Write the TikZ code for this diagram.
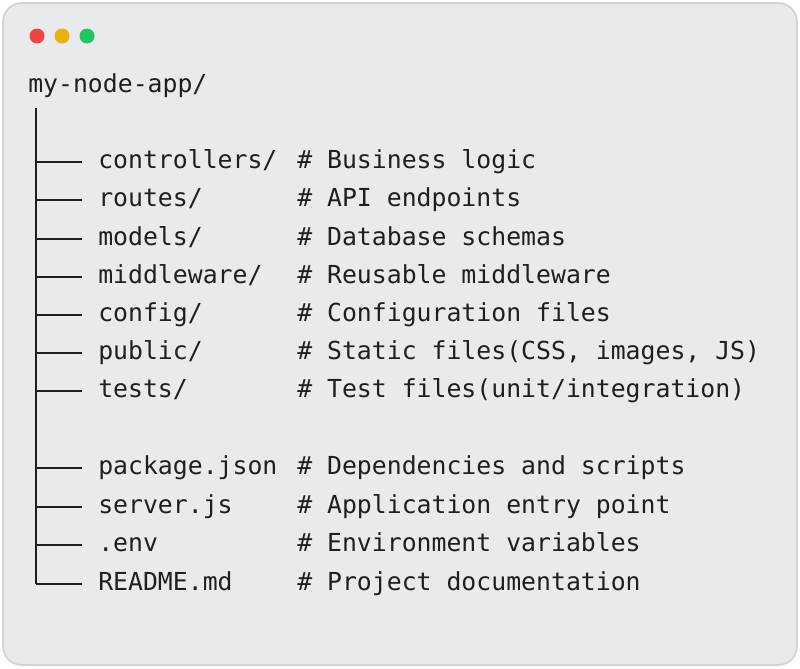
\documentclass[tikz,border=0pt]{standalone}
\usepackage{fontspec}
\setmonofont{DejaVu Sans Mono}
\definecolor{txt}{HTML}{1F1F1F}
\definecolor{cardbg}{HTML}{E8EAED}
\definecolor{cardline}{HTML}{CFD2D6}
\definecolor{dotr}{HTML}{EF4444}
\definecolor{doty}{HTML}{EAB308}
\definecolor{dotg}{HTML}{22C55E}
\newcommand{\entry}[3]{%
  \coordinate (b#3) at (36,#3);
  \coordinate (e#3) at (82,#3);
  \draw[tree] (b#3) -- (e#3);
  \node[t] (n#3) at (98,#3) {#1};
  \node[t] (c#3) at (297,#3) {\# #2};}
\begin{document}
\begin{tikzpicture}[x=0.75pt,y=-0.75pt,
  t/.style={anchor=west,inner sep=0pt,text height=13pt,text depth=4pt,font=\ttfamily\fontsize{18.6}{20}\selectfont,text=txt},
  tree/.style={txt,line width=1.2pt}]
\useasboundingbox (0,0) rectangle (800,668);
\fill[white] (0,0) rectangle (800,668);
\draw[cardline,fill=cardbg,line width=1.2pt,rounded corners=14pt] (3,3) rectangle (797,665);
\fill[dotr] (37,36) circle (7.5);
\fill[doty] (62,36) circle (7.5);
\fill[dotg] (87,36) circle (7.5);
\node[t] (root) at (28,86) {my-node-app/};
\coordinate (top) at (36,108);
\coordinate (bot) at (36,584);
\draw[tree] (top) -- (bot);
\entry{controllers/}{Business logic}{162}
\entry{routes/}{API endpoints}{200}
\entry{models/}{Database schemas}{239}
\entry{middleware/}{Reusable middleware}{277}
\entry{config/}{Configuration files}{315}
\entry{public/}{Static files(CSS, images, JS)}{353}
\entry{tests/}{Test files(unit/integration)}{391}
\entry{package.json}{Dependencies and scripts}{468}
\entry{server.js}{Application entry point}{507}
\entry{.env}{Environment variables}{545}
\entry{README.md}{Project documentation}{584}
\end{tikzpicture}
\end{document}
